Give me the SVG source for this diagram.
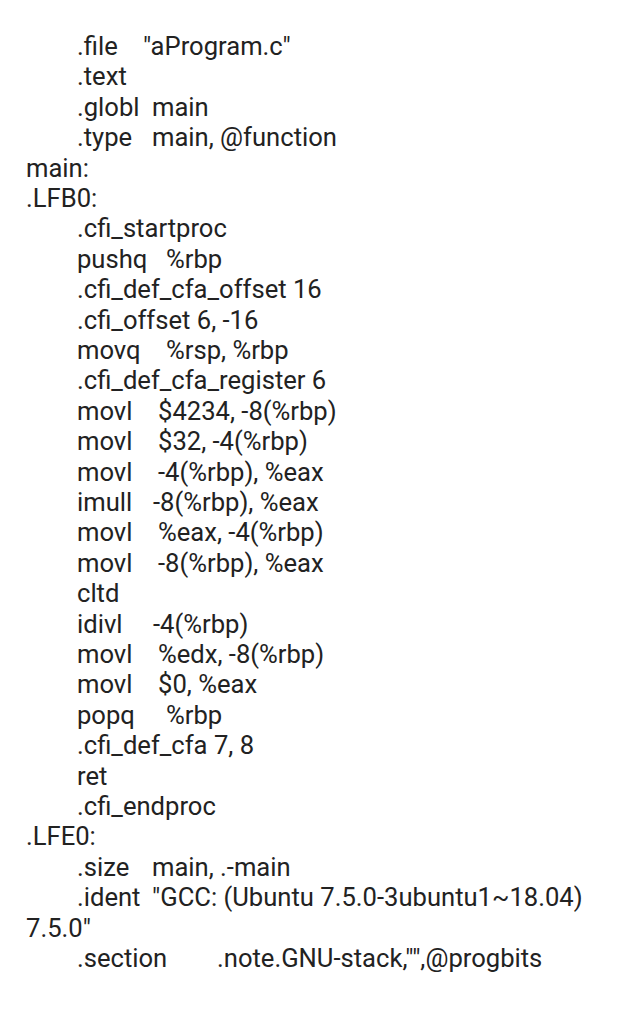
<svg xmlns="http://www.w3.org/2000/svg" width="626" height="1024" viewBox="0 0 626 1024">
<style>text{font-family:Roboto,"Liberation Sans",sans-serif;font-size:25.6px;fill:#222}</style>
<rect width="626" height="1024" fill="#fff"/>
<g id="listing">
<text x="77" y="55">.file<tspan x="143">"aProgram.c"</tspan></text>
<text x="77" y="85">.text</text>
<text x="77" y="116">.globl<tspan x="152">main</tspan></text>
<text x="77" y="146">.type<tspan x="152">main, @function</tspan></text>
<text x="26" y="177">main:</text>
<text x="26" y="207">.LFB0:</text>
<text x="77" y="237">.cfi_startproc</text>
<text x="77" y="268">pushq<tspan x="166">%rbp</tspan></text>
<text x="77" y="298">.cfi_def_cfa_offset 16</text>
<text x="77" y="329">.cfi_offset 6, -16</text>
<text x="77" y="359">movq<tspan x="166">%rsp, %rbp</tspan></text>
<text x="77" y="389">.cfi_def_cfa_register 6</text>
<text x="77" y="420">movl<tspan x="158">$4234, -8(%rbp)</tspan></text>
<text x="77" y="450">movl<tspan x="158">$32, -4(%rbp)</tspan></text>
<text x="77" y="481">movl<tspan x="158">-4(%rbp), %eax</tspan></text>
<text x="77" y="511">imull<tspan x="153">-8(%rbp), %eax</tspan></text>
<text x="77" y="541">movl<tspan x="158">%eax, -4(%rbp)</tspan></text>
<text x="77" y="572">movl<tspan x="158">-8(%rbp), %eax</tspan></text>
<text x="77" y="602">cltd</text>
<text x="77" y="633">idivl<tspan x="153">-4(%rbp)</tspan></text>
<text x="77" y="663">movl<tspan x="158">%edx, -8(%rbp)</tspan></text>
<text x="77" y="693">movl<tspan x="158">$0, %eax</tspan></text>
<text x="77" y="724">popq<tspan x="166">%rbp</tspan></text>
<text x="77" y="754">.cfi_def_cfa 7, 8</text>
<text x="77" y="785">ret</text>
<text x="77" y="815">.cfi_endproc</text>
<text x="26" y="845">.LFE0:</text>
<text x="77" y="876">.size<tspan x="152">main, .-main</tspan></text>
<text x="77" y="906">.ident<tspan x="152">"GCC: (Ubuntu 7.5.0-3ubuntu1~18.04)</tspan></text>
<text x="26" y="937">7.5.0"</text>
<text x="77" y="967">.section<tspan x="217">.note.GNU-stack,"",@progbits</tspan></text>
</g>
</svg>
